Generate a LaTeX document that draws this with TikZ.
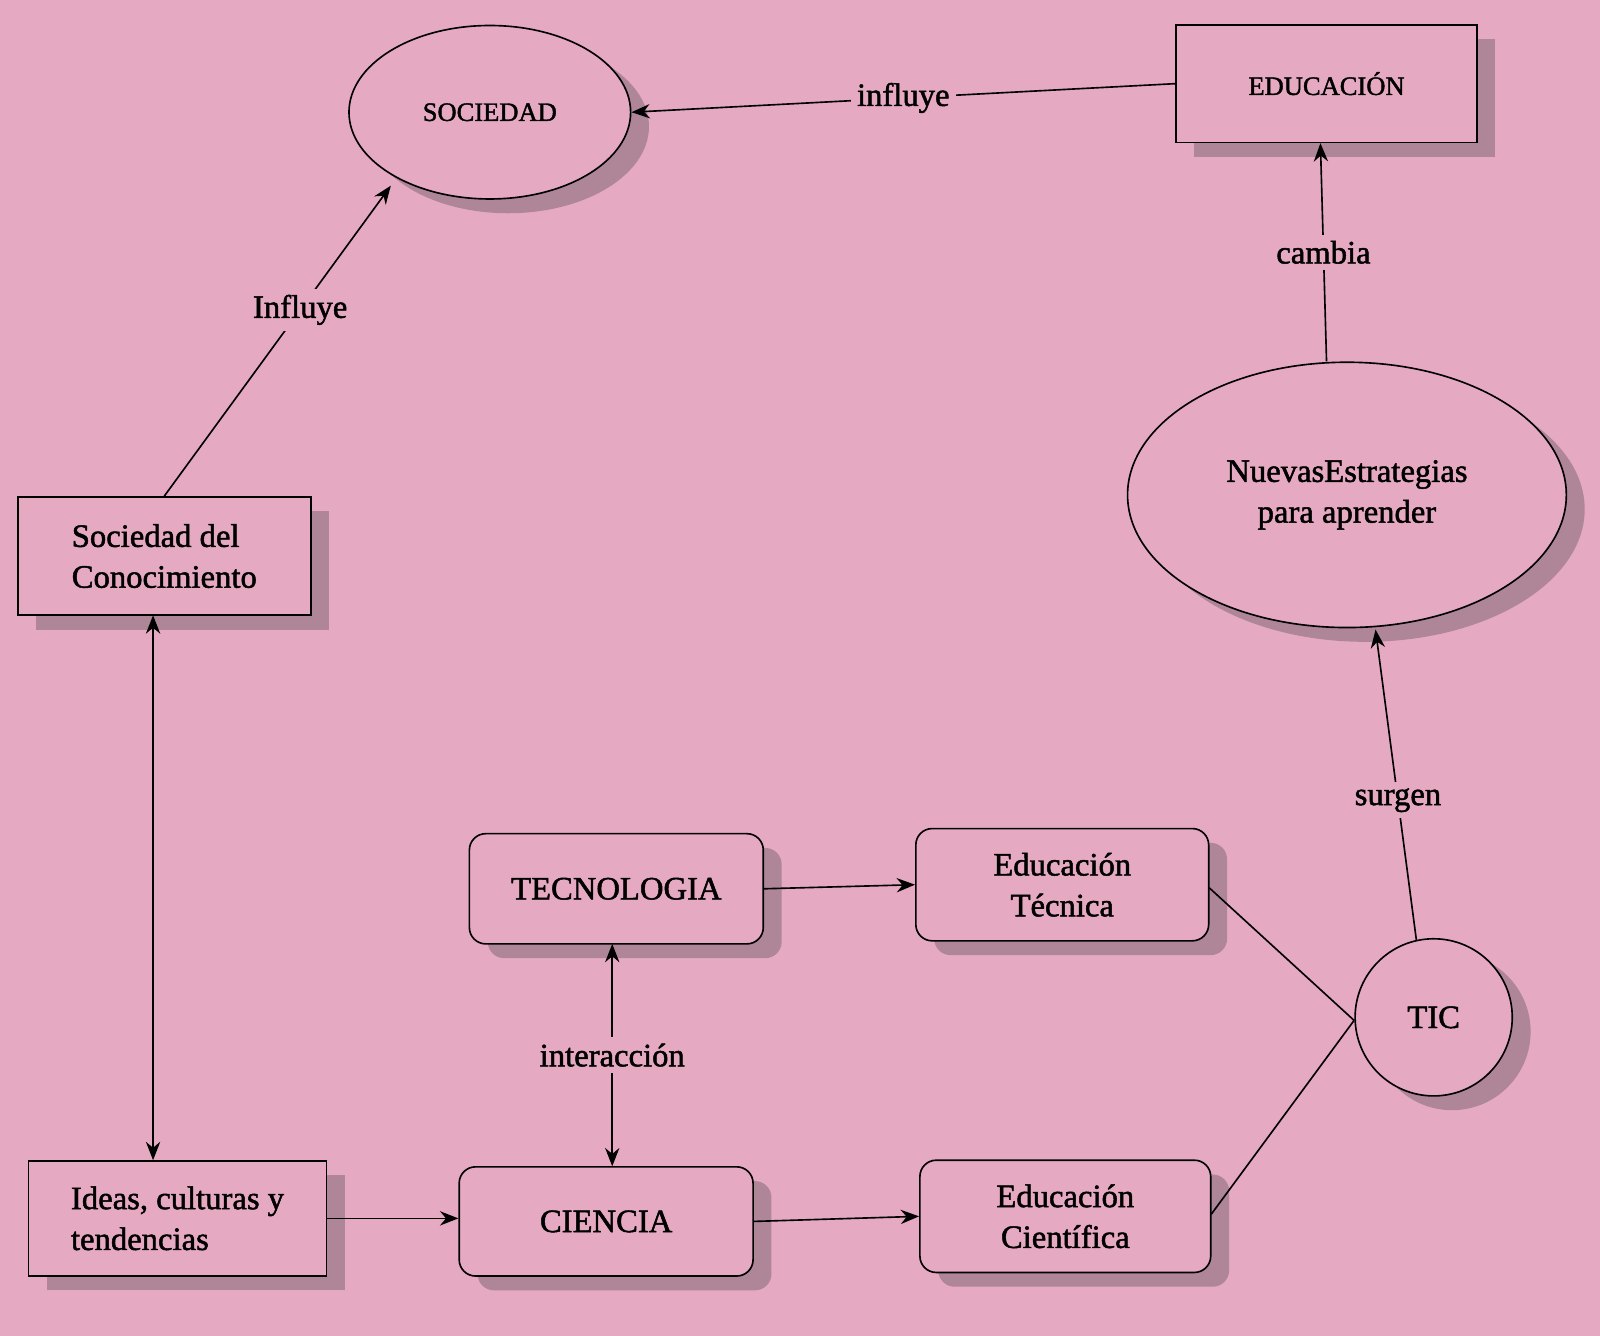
\documentclass[tikz,border=0pt]{standalone}
\usepackage{fontspec}
\setmainfont{Liberation Serif}[AutoFakeBold=1.5]
\usetikzlibrary{arrows.meta,shapes.geometric,shadows}
\definecolor{bg}{HTML}{E6A9C2}
\definecolor{sh}{HTML}{A07E8E}
\begin{document}
\begin{tikzpicture}[x=0.5pt,y=-0.5pt,
  box/.style={draw,thick,fill=bg,drop shadow={shadow xshift=9pt,shadow yshift=-7pt,fill=sh,opacity=0.8},inner sep=0pt},
  rbox/.style={box,rounded corners=8pt},
  lbl/.style={fill=bg,inner sep=3pt,font=\fontsize{16}{18}\selectfont\bfseries},
  arr/.style={thick,-{Stealth[length=9pt,width=7pt]}},
  barr/.style={thick,{Stealth[length=9pt,width=7pt]}-{Stealth[length=9pt,width=7pt]}},
  txt/.style={font=\fontsize{16}{20}\selectfont\bfseries,align=center}]
\fill[bg] (0,0) rectangle (1568,1309);
\useasboundingbox (0,0) rectangle (1568,1309);
\node[box,ellipse,minimum width=138pt,minimum height=85pt,font=\fontsize{13}{15}\selectfont\bfseries] (soc) at (480,110) {SOCIEDAD};
\node[box,minimum width=147.5pt,minimum height=57.5pt,font=\fontsize{13}{15}\selectfont\bfseries] (edu) at (1300,82) {EDUCACIÓN};
\node[box,ellipse,minimum width=215pt,minimum height=130pt,txt] (nue) at (1320,485) {NuevasEstrategias\\para aprender};
\node[box,circle,minimum size=77pt,txt] (tic) at (1405,997) {TIC};
\node[box,minimum width=143.5pt,minimum height=58pt,txt,align=left] (sdc) at (161,545) {Sociedad del\\Conocimiento};
\node[box,minimum width=146pt,minimum height=56.5pt,txt,align=left] (ide) at (174,1194) {Ideas, culturas y\\tendencias};
\node[rbox,minimum width=144pt,minimum height=53.5pt,txt] (cie) at (594,1197) {CIENCIA};
\node[rbox,minimum width=144pt,minimum height=54pt,txt] (tec) at (604,871) {TECNOLOGIA};
\node[rbox,minimum width=143.5pt,minimum height=55pt,txt] (et) at (1041,867) {Educación\\Técnica};
\node[rbox,minimum width=142.5pt,minimum height=55pt,txt] (ec) at (1044,1192) {Educación\\Científica};
\coordinate (tw) at (1327,1000);
\coordinate (tt) at (1388,921);
\draw[arr] (edu.west) -- node[lbl]{influye} (soc.east);
\draw[arr] (nue.north -| 1300,0) -- node[lbl]{cambia} (edu.south -| 1294,0);
\draw[arr] (tt) -- node[lbl,pos=0.45]{surgen} (1348,617);
\draw[arr] (sdc.north) -- node[lbl,pos=0.6]{Influye} (383,182);
\draw[barr] (150,603) -- (150,1137);
\draw[arr] (ide.east) -- (cie.west |- ide.east);
\draw[barr] (600,925) -- node[lbl]{interacción} (600,1143);
\draw[arr] (tec.east) -- (et.west);
\draw[arr] (cie.east) -- (ec.west);
\draw[thick] (1185,870) -- (tw);
\draw[thick] (1187,1190) -- (tw);
\end{tikzpicture}
\end{document}
